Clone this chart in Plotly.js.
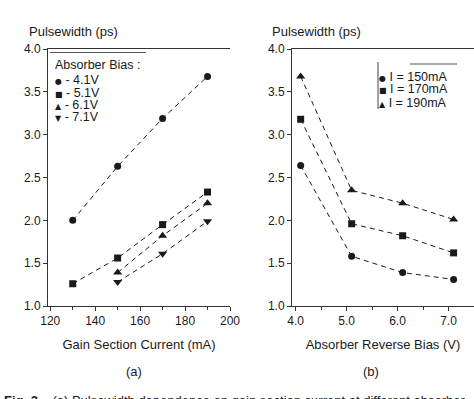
<!DOCTYPE html>
<html>
<head>
<meta charset="utf-8">
<script src="https://cdn.plot.ly/plotly-3.0.1.min.js"></script>
<style>html,body{margin:0;padding:0;background:#fff;}#chart{width:474px;height:399px;}</style>
</head>
<body>
<div id="chart"></div>
<script>
// ---- Data ----
// (a) Pulsewidth vs gain section current, for several absorber biases
const currentA = [130, 150, 170, 190];
const biasLabels = ["- 4.1V", "- 5.1V", "- 6.1V", "- 7.1V"];
const pw_41 = [2.00, 2.63, 3.19, 3.68];
const pw_51 = [1.26, 1.56, 1.95, 2.33];
const currentShort = [150, 170, 190];
const pw_61 = [1.39, 1.82, 2.20];
const pw_71 = [1.28, 1.61, 1.99];

// (b) Pulsewidth vs absorber reverse bias, for several currents
const biasB = [4.1, 5.1, 6.1, 7.1];
const currentLabels = ["I = 150mA", "I = 170mA", "I = 190mA"];
const pw_150 = [2.64, 1.58, 1.39, 1.31];
const pw_170 = [3.18, 1.96, 1.82, 1.62];
const pw_190 = [3.68, 2.35, 2.20, 2.01];

// ---- Styling helpers ----
const W = 474, H = 399;
const px = x => x / W;            // pixel -> paper x
const py = y => 1 - y / H;        // pixel -> paper y
const FONT = "Liberation Sans, Arial, sans-serif";
const INK = "#1a1a1a";
const dashLine = {color: INK, width: 1, dash: "5px,4px"};

function series(x, y, symbol, size, xa, ya) {
  return {x: x, y: y, mode: "lines+markers", type: "scatter",
    xaxis: xa, yaxis: ya, showlegend: false, cliponaxis: false,
    line: dashLine, marker: {symbol: symbol, size: size, color: INK}};
}

const traces = [
  series(currentA, pw_41, "circle", 7, "x", "y"),
  series(currentA, pw_51, "square", 7, "x", "y"),
  series(currentShort, pw_61, "triangle-up", 8, "x", "y"),
  series(currentShort, pw_71, "triangle-down", 8, "x", "y"),
  series(biasB, pw_150, "circle", 7, "x2", "y2"),
  series(biasB, pw_170, "square", 7, "x2", "y2"),
  series(biasB, pw_190, "triangle-up", 8, "x2", "y2")
];

const tickFont = {family: FONT, size: 12, color: INK};
const yAxisBase = {range: [1, 4], dtick: 0.5, tick0: 1, tickformat: ".1f",
  showline: true, linecolor: "#333", linewidth: 1, ticks: "outside", ticklen: 4,
  tickcolor: "#333", showgrid: false, zeroline: false, tickfont: tickFont,
  domain: [py(306), py(49)], fixedrange: true};

const layout = {
  width: W, height: H,
  margin: {l: 0, r: 0, t: 0, b: 0, pad: 0},
  paper_bgcolor: "#fff", plot_bgcolor: "#fff",
  font: {family: FONT, color: INK},
  showlegend: false,
  xaxis: {domain: [px(48), px(230)], range: [119, 200], dtick: 20, tick0: 120,
    showline: true, mirror: true, linecolor: "#333", linewidth: 1,
    ticks: "outside", ticklen: 4, tickcolor: "#333",
    minor: {dtick: 10, ticks: "outside", ticklen: 3, tickcolor: "#333"},
    showgrid: false, zeroline: false, tickfont: tickFont, anchor: "y",
    title: {text: "Gain Section Current (mA)", font: {family: FONT, size: 13, color: INK}, standoff: 12}},
  yaxis: Object.assign({}, yAxisBase, {anchor: "x"}),
  xaxis2: {domain: [px(292), 1], range: [3.93, 7.5], dtick: 1, tick0: 4, tickformat: ".1f",
    showline: true, mirror: true, linecolor: "#333", linewidth: 1,
    ticks: "outside", ticklen: 4, tickcolor: "#333",
    minor: {dtick: 0.5, ticks: "outside", ticklen: 3, tickcolor: "#333"},
    showgrid: false, zeroline: false, tickfont: tickFont, anchor: "y2",
    title: {text: "Absorber Reverse Bias (V)", font: {family: FONT, size: 13, color: INK}, standoff: 12}},
  yaxis2: Object.assign({}, yAxisBase, {anchor: "x2"}),
  shapes: [
    {type: "line", xref: "paper", yref: "paper", x0: px(50), x1: px(146), y0: py(52.5), y1: py(52.5), line: {color: "#555", width: 1}},
    {type: "line", xref: "paper", yref: "paper", x0: px(378), x1: px(378), y0: py(62), y1: py(109), line: {color: "#444", width: 1}},
    {type: "line", xref: "paper", yref: "paper", x0: px(410), x1: px(457), y0: py(64), y1: py(64), line: {color: "#555", width: 1}}
  ],
  annotations: []
};

const ann = layout.annotations;
function addText(text, x, y, size, anchor, extra) {
  ann.push(Object.assign({text: text, xref: "paper", yref: "paper", x: px(x), y: py(y),
    xanchor: anchor || "left", yanchor: "middle", showarrow: false,
    font: {family: FONT, size: size, color: INK}}, extra || {}));
}
// y-axis titles
addText("Pulsewidth (ps)", 27, 31, 13, "left");
addText("Pulsewidth (ps)", 270, 31, 13, "left");
// panel labels
addText("(a)", 134, 371, 13, "center");
addText("(b)", 371, 371, 13, "center");
// legend (a) – tight line spacing as in the reference
const tight = {height: 11, borderpad: 0};
const symA = ["●", "■", "▲", "▼"];
addText("Absorber Bias :", 54, 65, 12.5, "left", tight);
const legYA = [79, 92, 104, 117];
biasLabels.forEach((lab, i) => {
  addText("<span style='font-size:8px;font-family:DejaVu Sans'>" + symA[i] + "</span> " + lab, 54, legYA[i], 12.5, "left", tight);
});
// legend (b)
const symB = ["●", "■", "▲"];
const legYB = [77, 89, 102];
currentLabels.forEach((lab, i) => {
  addText("<span style='font-size:8px;font-family:DejaVu Sans'>" + symB[i] + "</span> " + lab, 378, legYB[i], 12.5, "left", tight);
});
// caption (cut off at bottom, as in the reference)
ann.push({text: "<b>Fig. 2.</b>   (a) Pulsewidth dependence on gain section current at different absorber",
  xref: "paper", yref: "paper", x: px(2), y: py(390.5), xanchor: "left", yanchor: "top",
  showarrow: false, font: {family: FONT, size: 13, color: INK}});

Plotly.newPlot("chart", traces, layout, {displayModeBar: false, staticPlot: true});
</script>
</body>
</html>
